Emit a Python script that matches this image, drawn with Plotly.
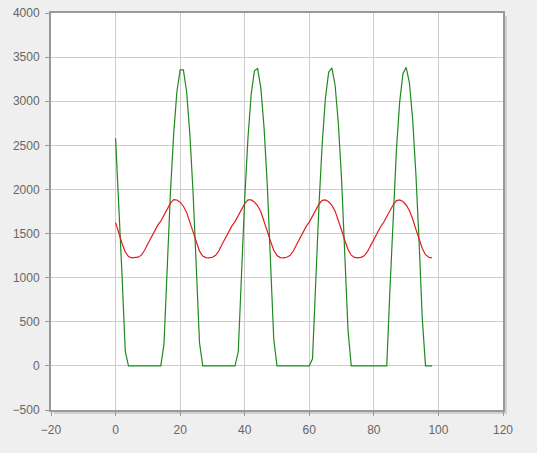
import plotly.graph_objects as go

# x positions (samples)
x_values = list(range(0, 99))

# green series
green_values = [
    2579, 1850, 1030, 165, 0, 0, 0, 0, 0, 0,
    0, 0, 0, 0, 0, 250, 1160, 1970, 2630, 3110,
    3356, 3356, 3110, 2630, 1970, 1160, 262, 0, 0, 0,
    0, 0, 0, 0, 0, 0, 0, 0, 160, 1070,
    1893, 2579, 3075, 3345, 3370, 3148, 2695, 2045, 1244, 300,
    0, 0, 0, 0, 0, 0, 0, 0, 0, 0,
    0, 80, 984, 1819, 2519, 3035, 3329, 3379, 3181, 2750,
    2117, 1330, 400, 0, 0, 0, 0, 0, 0, 0,
    0, 0, 0, 0, 0, 880, 1740, 2456, 2993, 3310,
    3385, 3212, 2803, 2189, 1412, 536, 0, 0, 0,
]

# red series
red_values = [
    1624, 1500, 1390, 1290, 1240, 1225, 1225, 1232, 1255, 1310,
    1385, 1455, 1530, 1590, 1640, 1710, 1785, 1845, 1885, 1880,
    1855, 1810, 1740, 1635, 1512, 1401, 1300, 1245, 1227, 1225,
    1231, 1253, 1305, 1378, 1448, 1523, 1584, 1635, 1703, 1778,
    1839, 1881, 1881, 1858, 1815, 1747, 1645, 1525, 1412, 1310,
    1250, 1228, 1225, 1231, 1250, 1299, 1370, 1441, 1515, 1578,
    1630, 1696, 1770, 1833, 1877, 1881, 1860, 1819, 1754, 1656,
    1537, 1423, 1320, 1255, 1230, 1225, 1230, 1248, 1294, 1363,
    1434, 1508, 1572, 1625, 1689, 1763, 1827, 1873, 1882, 1863,
    1824, 1761, 1668, 1550, 1434, 1330, 1260, 1231, 1225,
]

x_ticks = [-20, 0, 20, 40, 60, 80, 100, 120]
y_ticks = [-500, 0, 500, 1000, 1500, 2000, 2500, 3000, 3500, 4000]

W, H = 537, 453
ML, MR, MT, MB = 51, 34, 13, 43
pw = W - ML - MR
ph = H - MT - MB

fig = go.Figure()
fig.add_trace(go.Scatter(x=x_values, y=green_values, mode="lines",
                         line=dict(color="#208a20", width=1.2), showlegend=False))
fig.add_trace(go.Scatter(x=x_values, y=red_values, mode="lines",
                         line=dict(color="#e41c1c", width=1.2), showlegend=False))

# shadow + white plot area
fig.add_shape(type="rect", xref="paper", yref="paper",
              x0=3 / pw, x1=1 + 4 / pw, y0=-4 / ph, y1=1 - 3 / ph,
              fillcolor="rgba(0,0,0,0.13)", line=dict(width=0), layer="below")
fig.add_shape(type="rect", xref="paper", yref="paper",
              x0=0, x1=1, y0=0, y1=1,
              fillcolor="white", line=dict(width=0), layer="below")

axis_font = dict(family="Liberation Sans, Arial, sans-serif", size=12, color="#666666")

fig.update_xaxes(range=[-20, 120], tickvals=x_ticks, showgrid=True, gridcolor="#cccccc",
                 gridwidth=1, zeroline=False, showline=True, mirror=True,
                 linecolor="#999999", linewidth=2, ticks="outside", ticklen=4,
                 tickcolor="#999999", tickfont=axis_font, ticklabelstandoff=4,
                 automargin=False)
fig.update_yaxes(range=[-500, 4000], tickvals=y_ticks, showgrid=True, gridcolor="#cccccc",
                 gridwidth=1, zeroline=False, showline=True, mirror=True,
                 linecolor="#999999", linewidth=2, ticks="outside", ticklen=4,
                 tickcolor="#999999", tickfont=axis_font, ticklabelstandoff=3,
                 automargin=False)

fig.update_layout(width=W, height=H, margin=dict(l=ML, r=MR, t=MT, b=MB, pad=0),
                  paper_bgcolor="#efefef", plot_bgcolor="rgba(0,0,0,0)",
                  showlegend=False)

fig.write_html("out.html", config={"displayModeBar": False},
               post_script="document.body.style.margin='0';document.body.style.overflow='hidden';")
